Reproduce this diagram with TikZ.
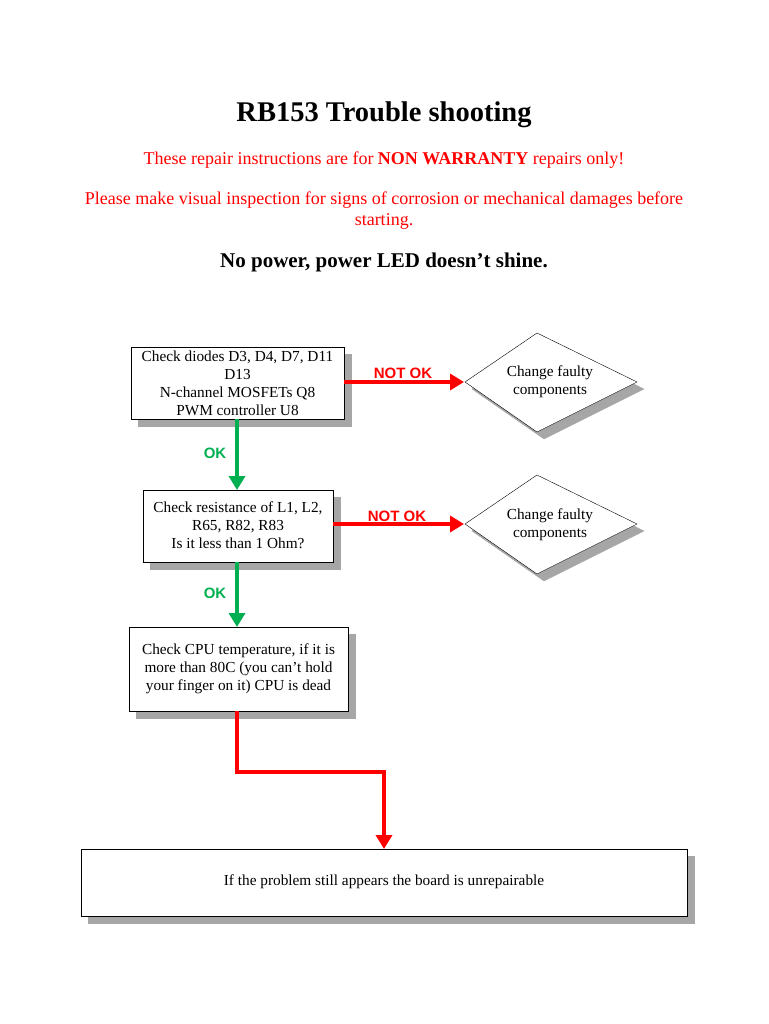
\documentclass[tikz,border=0pt]{standalone}
\usepackage{fontspec}
\setmainfont{Liberation Serif}
\newfontfamily\lsans{Liberation Sans}
\usetikzlibrary{arrows.meta}
\definecolor{rd}{RGB}{255,0,0}
\definecolor{gn}{RGB}{0,176,80}
\tikzset{
 x=1pt,y=-1pt,
 boxs/.style={draw=black,fill=white,align=center,font=\fontsize{15.3}{18}\selectfont,inner sep=2pt},
 rarr/.style={draw=rd,line width=3.8pt,-{Triangle[length=14pt,width=16pt]}},
 garr/.style={draw=gn,line width=3.8pt,-{Triangle[length=14pt,width=16pt]}},
 lab/.style={font=\lsans\bfseries\fontsize{15}{17}\selectfont},
 shad/.style={fill=gray!70,draw=gray!70}
}
\begin{document}
\begin{tikzpicture}
\useasboundingbox (0,0) rectangle (768,1024);
\node[font=\bfseries\fontsize{28.5}{33}\selectfont] (title) at (384,115) {RB153 Trouble shooting};
\node[text=rd,font=\fontsize{18}{21}\selectfont] (w1) at (384,160) {These repair instructions are for \textbf{NON WARRANTY} repairs only!};
\node[text=rd,font=\fontsize{18}{21}\selectfont,align=center] (w2) at (384,211) {Please make visual inspection for signs of corrosion or mechanical damages before\\starting.};
\node[font=\bfseries\fontsize{21}{25}\selectfont] (h) at (384,262) {No power, power LED doesn't shine.};
% shadows
\fill[shad] (138,354) rectangle (351,426);
\fill[shad] (150,497) rectangle (340,569);
\fill[shad] (136,634) rectangle (355,718);
\fill[shad] (88,856) rectangle (694,923);
\fill[shad] (472,389) -- (544,340) -- (644,389) -- (544,439) -- cycle;
\fill[shad] (472,531) -- (544,482) -- (644,531) -- (544,581) -- cycle;
% boxes
\draw[fill=white] (131,347) rectangle (344,419);
\node[boxs,draw=none] (b1) at (237.5,383) {Check diodes D3, D4, D7, D11\\D13\\N-channel MOSFETs Q8\\PWM controller U8};
\draw[fill=white] (143,490) rectangle (333,562);
\node[boxs,draw=none] (b2) at (238,525) {Check resistance of L1, L2,\\R65, R82, R83\\Is it less than 1 Ohm?};
\draw[fill=white] (129,627) rectangle (348,711);
\node[boxs,draw=none] (b3) at (238.5,669) {Check CPU temperature, if it is\\more than 80C (you can't hold\\your finger on it) CPU is dead};
\draw[fill=white] (81,849) rectangle (687,916);
\node[boxs,draw=none] (b4) at (384,882) {If the problem still appears the board is unrepairable};
\draw[fill=white] (465,382) -- (537,333) -- (637,382) -- (537,432) -- cycle;
\node[boxs,draw=none] (d1) at (550,382) {Change faulty\\components};
\draw[fill=white] (465,524) -- (537,475) -- (637,524) -- (537,574) -- cycle;
\node[boxs,draw=none] (d2) at (550,525) {Change faulty\\components};
\coordinate (b1r) at (344,382); \coordinate (d1l) at (464,382);
\coordinate (b1b) at (237,419); \coordinate (b2t) at (237,490);
\coordinate (b2r) at (333,524); \coordinate (d2l) at (464,524);
\coordinate (b2b) at (237,562); \coordinate (b3t) at (237,627);
\coordinate (b3b) at (237,711); \coordinate (b4t) at (384,849);
\draw[rarr] (b1r) -- (d1l);
\node[lab,text=rd] (n1) at (403,373) {NOT OK};
\draw[garr] (b1b) -- (b2t);
\node[lab,text=gn] (o1) at (215,453) {OK};
\draw[rarr] (b2r) -- (d2l);
\node[lab,text=rd] (n2) at (397,516) {NOT OK};
\draw[garr] (b2b) -- (b3t);
\node[lab,text=gn] (o2) at (215,593) {OK};
\draw[rarr] (b3b) -- (237,772) -- (384,772) -- (b4t);
\end{tikzpicture}
\end{document}
